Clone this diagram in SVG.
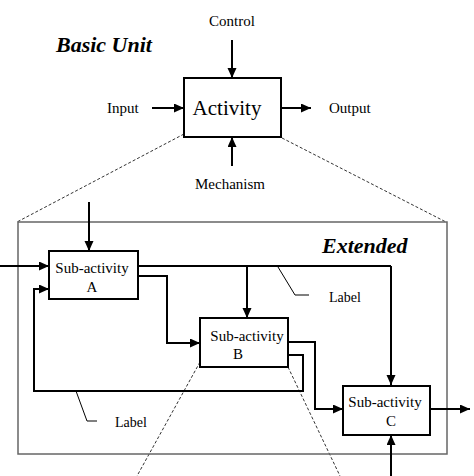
<svg xmlns="http://www.w3.org/2000/svg" width="474" height="476" viewBox="0 0 474 476">
<defs>
<marker id="ah" markerUnits="userSpaceOnUse" markerWidth="11" markerHeight="10" refX="10" refY="4.5" orient="auto">
<path d="M0,0 L10,4.5 L0,9 z" fill="#000"/>
</marker>
<style>
.box{fill:#fff;stroke:#000;stroke-width:2}
.ln{fill:none;stroke:#000;stroke-width:2}
.arr{fill:none;stroke:#000;stroke-width:2;marker-end:url(#ah)}
.thin{fill:none;stroke:#000;stroke-width:1}
.dash{fill:none;stroke:#333;stroke-width:1;stroke-dasharray:3,2}
.t{font-family:"Liberation Serif",serif;font-size:15px;fill:#000}
.big{font-size:21px}
.lb{font-family:"Liberation Serif",serif;font-size:14px;fill:#000}
.h{font-family:"Liberation Serif",serif;font-size:22px;font-weight:bold;font-style:italic;fill:#000}
</style>
</defs>
<rect width="474" height="476" fill="#fff"/>
<text class="h" x="56" y="52">Basic Unit</text>
<text class="h" x="322" y="253">Extended</text>
<g id="zoom-lines">
<path class="dash" d="M184,134 L17,222"/>
<path class="dash" d="M282,138 L446,222"/>
<path class="dash" d="M200,362 L137,476"/>
<path class="dash" d="M288,367 L340,476"/>
</g>
<g id="extended-frame"><rect x="18" y="222" width="429" height="232" fill="none" stroke="#666" stroke-width="1.5"/></g>
<g id="connectors">
<path class="arr" d="M232,40 L232,78"/>
<path class="arr" d="M152,108 L184,108"/>
<path class="arr" d="M281,108 L311,108"/>
<path class="arr" d="M232,166 L232,137"/>
<path class="arr" d="M89,202 L89,251"/>
<path class="arr" d="M0,266 L49,266"/>
<path class="arr" d="M289,355 L303,355 L303,391 L34,391 L34,289 L49,289"/>
<path class="ln" d="M138,266 L391,266"/>
<path class="arr" d="M391,266 L391,385"/>
<path class="arr" d="M247,266 L247,318"/>
<path class="arr" d="M138,276 L167,276 L167,343 L200,343"/>
<path class="arr" d="M288,342 L315,342 L315,409 L343,409"/>
<path class="arr" d="M430,409 L470,409"/>
<path class="arr" d="M391,476 L391,435"/>
<path class="thin" d="M278,267 L295,295 L309,295"/>
<path class="thin" d="M76,391 L87,421 L97,421"/>
</g>
<text class="t" x="232" y="26" text-anchor="middle">Control</text>
<text class="t" x="107" y="113">Input</text>
<text class="t" x="329" y="113">Output</text>
<text class="t" x="230" y="189" text-anchor="middle">Mechanism</text>
<text class="lb" x="329" y="302">Label</text>
<text class="lb" x="115" y="427">Label</text>
<g id="activity"><rect class="box" x="184" y="78" width="97" height="59"/><text class="t big" x="227" y="115" text-anchor="middle">Activity</text></g>
<g id="sub-a"><rect class="box" x="49" y="251" width="89" height="48"/><text class="t" x="92" y="273" text-anchor="middle">Sub-activity</text><text class="t" x="92" y="292" text-anchor="middle">A</text></g>
<g id="sub-b"><rect class="box" x="200" y="318" width="88" height="49"/><text class="t" x="247" y="341" text-anchor="middle">Sub-activity</text><text class="t" x="238" y="359" text-anchor="middle">B</text></g>
<g id="sub-c"><rect class="box" x="343" y="386" width="87" height="49"/><text class="t" x="385" y="407" text-anchor="middle">Sub-activity</text><text class="t" x="391" y="426" text-anchor="middle">C</text></g>
</svg>
